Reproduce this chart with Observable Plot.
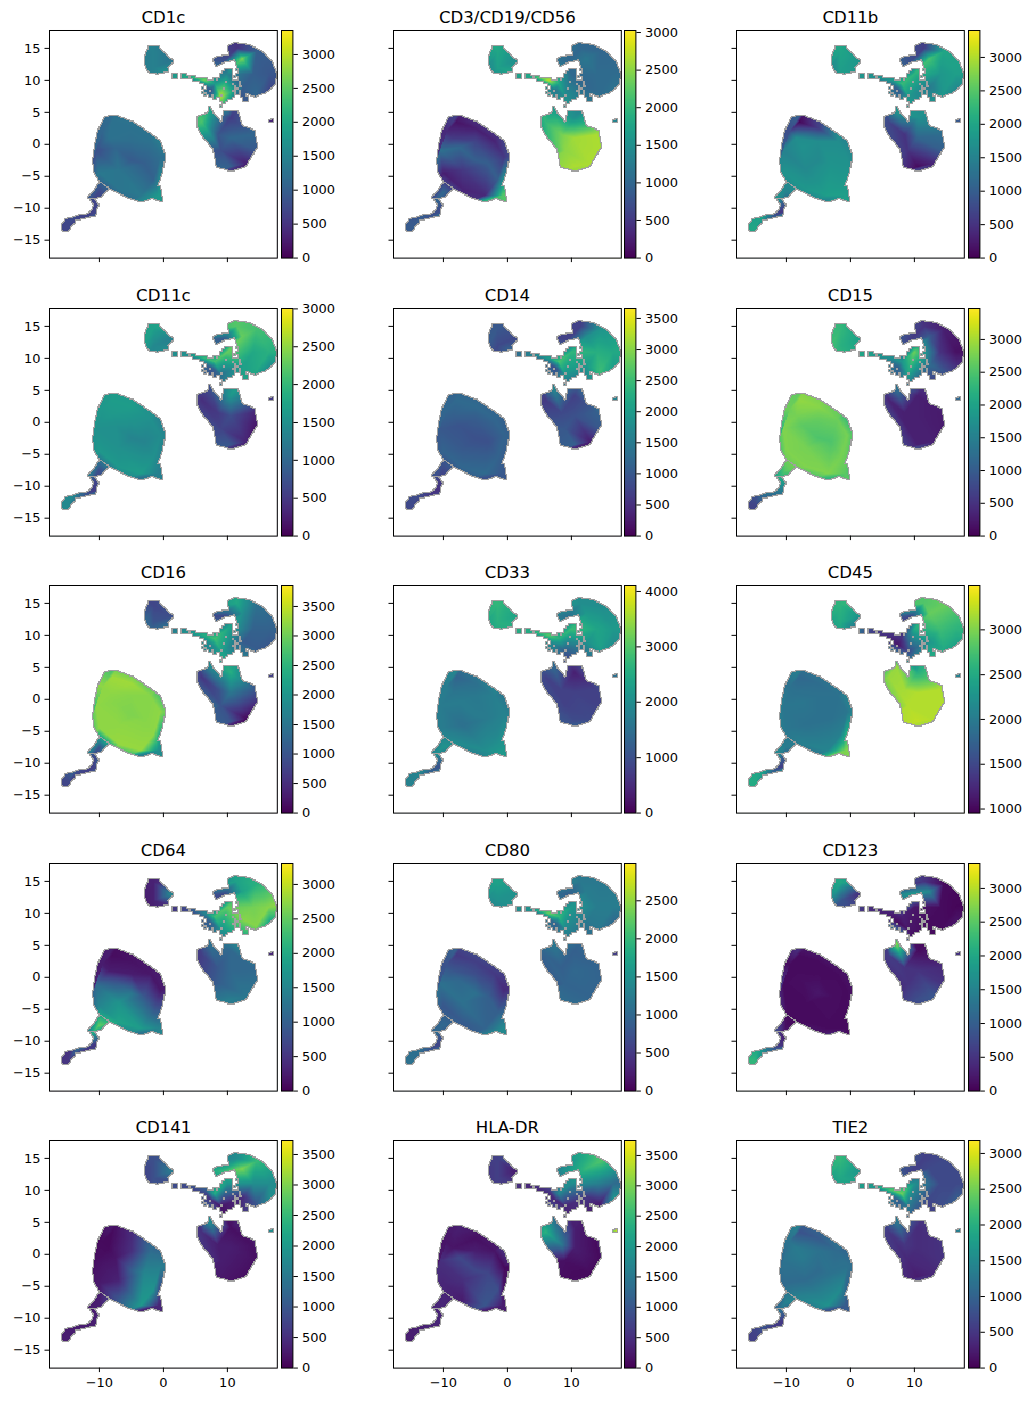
<!DOCTYPE html>
<html>
<head>
<meta charset="utf-8">
<style>
html,body{margin:0;padding:0;background:#fff;}
#fig{position:relative;width:1034px;height:1401px;overflow:hidden;}
#fig svg{position:absolute;max-width:none;overflow:visible;background:transparent;}
</style>
<script src="https://cdn.jsdelivr.net/npm/d3@7"></script>
<script src="https://cdn.jsdelivr.net/npm/@observablehq/plot@0.6"></script>
</head>
<body>
<div id="fig"></div>
<script>
// Sample locations in the embedding (shared by all panels)
const anchorX = [-8,-5,-2,-0.5,-1.5,-3.5,-7,-10,-10.5,-9.5,-5,-7.5,-3,-7,-0.8,-10,-11,-15,-1.5,1,3.5,6.5,8,9,10,7.5,11.5,14.5,16.5,14.5,12.5,12.3,14,9.5,6,7.2,8.5,10.5,10.5,14,14.5,13,10.5,9,17,-1.5,-8.5,-5];
const anchorY = [3.5,2.5,0.5,-2,-5.5,-8,-7,-4.5,-1,2,-2.5,-0.5,-3,-4,-8,-7.5,-10.7,-13,14.8,13,10.7,10,9.5,7.5,11,8.5,15,14.5,11,8,9,13.4,11,13,3.5,5.2,1.5,4.2,1,1.5,-1,-3,-3.5,-1,3.7,12,1,0.5];

// Marker intensity read at those locations
const CD1c  = [1250,1250,1250,1200,1050,1350,1300,1350,800,1100,950,1100,1000,1300,1800,700,650,700,1450,1300,2000,2600,1800,3000,1500,800,500,1000,900,1100,1000,2700,1000,800,2400,2000,900,600,1100,1100,900,300,1000,800,300,1450,1250,1200];
const CD3   = [150,250,300,500,900,350,300,250,1100,350,900,1000,900,500,2200,1000,700,850,1800,1500,1800,2700,1800,1500,1000,1200,1000,1000,1050,1050,1000,1200,1050,1000,2000,1700,2400,1500,2600,2650,2650,2650,2650,2500,1300,1700,500,600];
const CD11b = [50,600,1650,1700,1800,1900,1800,1750,1500,800,1600,1700,1750,1600,1900,1500,500,2000,2000,1800,1700,1800,2300,1800,2200,900,600,2000,1900,1800,1400,2400,1800,800,700,1800,500,1700,1100,1200,1000,350,100,500,900,1900,1650,1650];
const CD11c = [1650,1650,1500,1450,1500,1650,1600,1600,1500,1600,1350,1500,1350,1500,1300,700,500,1400,1700,1300,1500,2000,2100,1100,2300,800,2200,2100,1900,1800,1700,2300,1800,800,400,700,500,1600,700,350,150,300,800,600,500,1400,1600,1550];
const CD14  = [1250,1250,1200,1150,1150,1250,1200,1150,1000,1200,900,950,900,1000,1000,800,500,800,1000,800,1600,2000,2600,1900,2400,800,700,1900,2200,2500,2000,1800,2300,700,600,1700,800,700,900,1100,1000,300,1100,1000,1600,800,1100,1050];
const CD15  = [2900,2850,2700,2750,2750,2800,2800,2800,2800,2700,2500,2600,2500,2750,2600,2600,1400,700,2300,2000,1900,1700,1800,2000,2700,1000,500,300,150,900,1200,1000,500,600,350,1300,300,300,300,250,250,300,300,300,1200,2200,2750,2650];
const CD16  = [3300,3300,3150,3200,3200,3250,3250,3200,3200,3200,3100,3150,3150,3200,1900,1000,700,800,800,900,1900,2400,2700,2200,2300,1800,2300,1400,1200,1100,1100,1900,1200,800,600,1800,900,2400,1500,1100,400,100,1000,1000,700,1000,3200,3150];
const CD33  = [1300,1500,1750,1800,1900,2000,1950,1700,1700,1700,1700,1700,1700,1500,2200,2100,1000,1800,2700,2400,2500,3000,2600,1200,2800,1800,2000,2000,2200,2300,2100,2200,2400,1500,800,1400,800,350,800,800,800,900,950,800,1500,2600,1600,1650];
const CD45  = [1800,1850,1900,1950,2050,2100,2050,1950,1950,1900,1900,1950,1900,1900,3000,2000,1400,2500,2600,2300,1400,1300,1300,1500,2500,1100,2800,2900,2600,2500,2300,2900,2700,1500,3100,3100,3150,2550,3200,3200,3200,3200,3250,3200,2000,2500,1900,1900];
const CD64  = [100,150,200,200,1000,1800,1900,1500,1100,250,1300,800,900,1700,1500,2500,500,500,300,1500,700,1500,2300,1700,2500,1000,1900,2100,2700,2700,2700,1900,2600,700,600,1200,900,1100,1100,1100,1200,1300,1400,1000,300,300,250,250];
const CD80  = [500,550,500,350,900,950,850,800,1100,750,1100,1000,900,1100,1400,1000,600,1100,1700,1500,1500,2300,2000,1400,1600,900,1200,1200,1250,1200,1200,1250,1250,900,950,1200,900,900,1000,950,950,950,1000,950,500,1500,800,700];
const CD123 = [100,100,100,100,100,100,100,100,100,100,200,120,120,100,100,100,500,2200,2000,500,400,300,300,200,200,100,500,100,50,100,100,1600,100,1800,600,2800,500,100,500,400,500,900,800,500,500,900,100,100];
const CD141 = [100,450,1300,1600,1900,2000,1000,250,150,100,1100,200,1700,350,400,300,300,300,900,1500,800,1000,2300,200,1900,500,1800,2500,1800,1000,500,3000,1800,2500,500,1900,300,150,300,150,150,150,200,300,1900,900,100,500];
const HLADR = [300,150,200,100,900,1000,300,400,500,200,800,800,800,500,300,400,400,300,700,300,400,600,1700,400,1800,400,2200,2700,1300,300,600,2500,1600,2000,2400,1500,1500,300,300,100,100,100,100,150,3400,700,200,300];
const TIE2  = [800,900,1100,1200,1500,1600,1450,1100,1200,1200,1100,1300,1200,1100,900,1400,500,600,2100,1700,1700,2300,2500,1300,1600,900,600,700,700,750,700,700,700,600,500,1300,500,400,400,450,450,350,250,350,1400,1900,1300,1200];

// Panels, colour-bar limits and colour-bar tick labels
const titles = ["CD1c","CD3/CD19/CD56","CD11b","CD11c","CD14","CD15","CD16","CD33","CD45","CD64","CD80","CD123","CD141","HLA-DR","TIE2"];
const series = [CD1c,CD3,CD11b,CD11c,CD14,CD15,CD16,CD33,CD45,CD64,CD80,CD123,CD141,HLADR,TIE2];
const barMin = [0,0,0,0,0,0,0,0,955,0,0,0,0,0,0];
const barMax = [3353,3027,3403,3005,3660,3472,3855,4108,3495,3304,2990,3369,3729,3746,3181];
const barTicks = [
  [0,500,1000,1500,2000,2500,3000],[0,500,1000,1500,2000,2500,3000],[0,500,1000,1500,2000,2500,3000],
  [0,500,1000,1500,2000,2500,3000],[0,500,1000,1500,2000,2500,3000,3500],[0,500,1000,1500,2000,2500,3000],
  [0,500,1000,1500,2000,2500,3000,3500],[0,1000,2000,3000,4000],[1000,1500,2000,2500,3000],
  [0,500,1000,1500,2000,2500,3000],[0,500,1000,1500,2000,2500],[0,500,1000,1500,2000,2500,3000],
  [0,500,1000,1500,2000,2500,3000,3500],[0,500,1000,1500,2000,2500,3000,3500],[0,500,1000,1500,2000,2500,3000]
];
const axisTicksX = [-10,0,10];
const axisTicksY = [-15,-10,-5,0,5,10,15];
const extent = [-17.8,17.8];
const gridSize = 200;

// Outlines of the occupied regions in the embedding
const regions = [
  [[-9.1,4.3],[-7.55,4.5],[-4.7,3.4],[-2.6,2],[-0.5,0.4],[0.26,-1.9],[-0.26,-4.5],[-1,-6.5],[-0.55,-6.5],[-0.15,-9],[-1.8,-8.3],[-3.4,-9],[-5.7,-8.2],[-8.3,-6.9],[-9.9,-5.8],[-10.8,-4.3],[-11,-2.45],[-10.7,-0.4],[-10.15,2.2]],
  [[-11.7,-8.3],[-10.8,-7.3],[-9.9,-6],[-8.6,-6.9],[-9.9,-8.2],[-11,-8.4]],
  [[-11,-8.4],[-10.2,-9.5],[-10.6,-10.5],[-11,-10.2],[-10.9,-9.4],[-11.4,-8.6]],
  [[-11.7,-11.3],[-10.7,-11.3],[-10.4,-10],[-11.2,-10.3],[-11.6,-10.9]],
  [[-13.7,-11.2],[-11.5,-10.9],[-11.5,-11.3],[-13.7,-11.8]],
  [[-15.9,-12.6],[-15.1,-11.7],[-13.65,-11.4],[-13.95,-12.2],[-15.1,-13.65],[-15.8,-13.4]],
  [[-2.85,13.7],[-2.25,15.25],[-0.8,15.25],[0.25,14],[1.4,13.1],[1.3,12.65],[0.5,12.1],[0.8,11.5],[-1,11.1],[-2.35,11.35],[-2.75,12.4]],
  [[10.05,15.26],[11.2,15.8],[13.3,15.5],[15.4,14.5],[16.9,12.9],[17.6,11.1],[17.45,9.5],[15.9,8.1],[14.3,7.55],[12.8,8.1],[12.2,9.3],[11.9,11.1],[11.5,12.4],[11.2,13.2],[10.4,14]],
  [[7.8,13.2],[8.3,13.6],[10.4,14],[11.2,13.7],[10.9,13.2],[9.4,12.9],[8.3,12.3]],
  [[5.3,4.3],[7,4.85],[7.2,5.9],[7.55,5.1],[9.1,3.3],[9.5,5.1],[11.55,5.2],[12.25,2.85],[14.15,2.15],[14.6,-0.35],[12.75,-3.4],[10.7,-4.15],[8.35,-3.5],[7.8,-0.6],[6.25,1.2],[5.45,2.5]],
  [[16.6,3.5],[17.15,3.5],[17.15,3.95],[16.85,3.95],[16.85,3.7],[16.6,3.7]]
];
// Sparse cells of the stripe and fan, on a grid of half the resolution (col 54 onward, row 17 onward)
const fanColStart = 54, fanRowStart = 17;
const fanRows = [
  "                       ###  # #",
  "                      ####   # #",
  "##  ##               #####  ## #",
  "##  ### ##           ##### # # #",
  "         ######   # ######   ## #",
  "            ########### #####  # #",
  "              ############ ##  ##",
  "               ############ #  # #",
  "             # ####### ####  ## #",
  "              ## #########  # ##",
  "             # ############ # ## #",
  "              # # ### #####   ##",
  "                  #  #####     ##",
  "                     ###       ##",
  "                      #",
  "",
  "                     #"
];

// Build the occupancy mask on the plotting grid
const step = (extent[1]-extent[0])/gridSize;
const inside = new Uint8Array(gridSize*gridSize);
for (let r=0;r<gridSize;r++) for (let c=0;c<gridSize;c++) {
  const p=[extent[0]+(c+.5)*step, extent[1]-(r+.5)*step];
  if (regions.some(g=>d3.polygonContains(g,p))) inside[r*gridSize+c]=1;
}
const fanOn=(i,k)=>(fanRows[i]||"")[k]==="#";
fanRows.forEach((s,i)=>{ for(let k=0;k<s.length;k++) if(fanOn(i,k)) {
  const r=2*(fanRowStart+i), c=2*(fanColStart+k);
  const alone=!(fanOn(i,k+1)||fanOn(i,k-1)||fanOn(i+1,k)||fanOn(i-1,k));
  inside[r*gridSize+c]=1;
  if(!alone){ inside[r*gridSize+c+1]=1; inside[(r+1)*gridSize+c]=1; inside[(r+1)*gridSize+c+1]=1; }
}});
const maskCells=[];
for (let r=0;r<gridSize;r++) for (let c=0;c<gridSize;c++) {
  if (inside[r*gridSize+c]) continue;
  let edge=false;
  for (let dr=-1;dr<=1;dr++) for (let dc=-1;dc<=1;dc++) {
    const rr=r+dr, cc=c+dc;
    if (rr>=0&&rr<gridSize&&cc>=0&&cc<gridSize&&inside[rr*gridSize+cc]) edge=true;
  }
  maskCells.push({x:extent[0]+(c+.5)*step,y:extent[1]-(r+.5)*step,c:edge?"#a0a0a0":"#ffffff"});
}

const frameLefts=[49.3,392.6,736];
const frameTops=[30.3,308,585.2,862.5,1139.8];
const fw=227.8, fh=227.6, barW=11.4;
const font={fontFamily:"'DejaVu Sans',sans-serif",fontSize:"13px",color:"#000",background:"transparent"};
const fig=document.getElementById("fig");

titles.forEach((t,i)=>{
  const col=i%3,row=Math.floor(i/3);
  const L=frameLefts[col],T=frameTops[row];
  const color={type:"linear",scheme:"viridis",domain:[barMin[i],barMax[i]]};
  const panel=Plot.plot({
    width:fw+50,height:fh+55,marginLeft:49,marginRight:1,marginTop:30,marginBottom:25,
    style:font,
    x:{domain:extent},y:{domain:extent},color,
    marks:[
      Plot.raster(series[i],{x:anchorX,y:anchorY,fill:series[i],interpolate:"barycentric",
        x1:extent[0],x2:extent[1],y1:extent[0],y2:extent[1],width:gridSize,height:gridSize,imageRendering:"pixelated"}),
      Plot.raster(maskCells,{x:"x",y:"y",fill:{value:"c",scale:null},
        x1:extent[0],x2:extent[1],y1:extent[0],y2:extent[1],width:gridSize,height:gridSize,imageRendering:"pixelated"}),
      Plot.frame({stroke:"#000",strokeWidth:1}),
      Plot.axisX({ticks:axisTicksX,tickSize:4.5,tickPadding:5.5,label:null,tickFormat:row===4?"d":()=>"",stroke:"#000"}),
      Plot.axisY({ticks:axisTicksY,tickSize:4.5,tickPadding:4.5,label:null,tickFormat:col===0?"d":()=>"",stroke:"#000"}),
      Plot.text([t],{text:d=>d,frameAnchor:"top",lineAnchor:"bottom",dy:-7.5,fontSize:16.6,fill:"#000"})
    ]
  });
  panel.style.left=(L-49)+"px"; panel.style.top=(T-30)+"px";
  fig.appendChild(panel);

  const bar=Plot.plot({
    width:barW+50,height:fh+10,marginLeft:0,marginRight:50,marginTop:5,marginBottom:5,
    style:font,
    x:{domain:[0,1],axis:null},y:{domain:[barMin[i],barMax[i]]},color,
    marks:[
      Plot.raster({fill:(x,y)=>y,x1:0,x2:1,y1:barMin[i],y2:barMax[i],width:1,height:256,imageRendering:"auto"}),
      Plot.frame({stroke:"#000",strokeWidth:1}),
      Plot.axisY({anchor:"right",ticks:barTicks[i],tickSize:4.5,tickPadding:4.5,label:null,tickFormat:"d",stroke:"#000"})
    ]
  });
  bar.style.left=(L+fw+4)+"px"; bar.style.top=(T-5)+"px";
  fig.appendChild(bar);
});
</script>
</body>
</html>
